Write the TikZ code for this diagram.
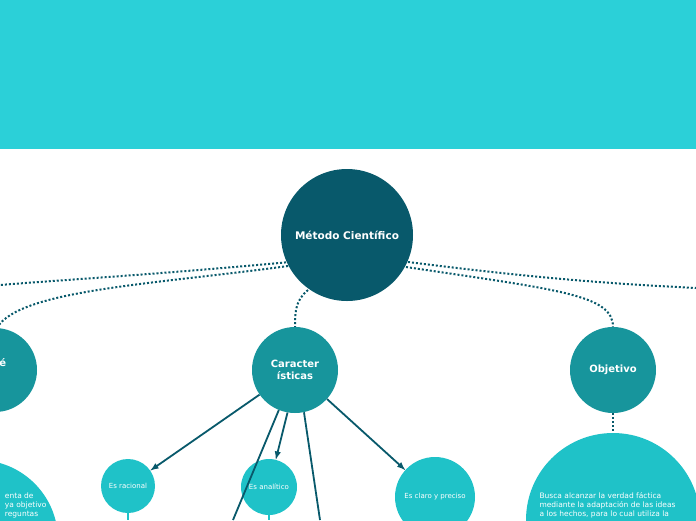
\documentclass[tikz,border=0pt]{standalone}
\usepackage{fontspec}
\setmainfont{DejaVu Sans}
\definecolor{banner}{HTML}{2BD0D8}
\definecolor{dark}{HTML}{08596B}
\definecolor{mid}{HTML}{17959C}
\definecolor{light}{HTML}{1FC2C8}
\tikzset{
 main/.style={circle,fill=dark,text=white,font=\bfseries\fontsize{10.5}{12.5}\selectfont,align=center},
 sub/.style={circle,fill=mid,text=white,font=\bfseries\fontsize{10}{12}\selectfont,align=center},
 leaf/.style={circle,fill=light,text=white,font=\fontsize{7}{8.5}\selectfont,align=center},
 dotc/.style={draw=dark,line width=2pt,dotted},
 arr/.style={draw=dark,line width=1.8pt,-latex},
 pl/.style={draw=dark,line width=1.8pt},
 lc/.style={draw=light,line width=1.8pt}
}
\begin{document}
\begin{tikzpicture}[x=1pt,y=-1pt]
\useasboundingbox (0,0) rectangle (696,520);
\clip (0,0) rectangle (696,520);
\fill[white] (0,0) rectangle (696,520);
\fill[banner] (0,0) rectangle (696,149);
\coordinate (lo1) at (0,285);
\coordinate (ro1) at (696,288);
\draw[dotc] (290,262) .. controls (150,275) and (60,280) .. (lo1);
\draw[dotc] (288,266) .. controls (150,285) and (10,290) .. (-5,332);
\draw[dotc] (408,262) .. controls (550,280) and (620,284) .. (ro1);
\draw[dotc] (406,267) .. controls (560,290) and (613,295) .. (613,327);
\draw[dotc] (308,290) .. controls (296,300) and (295,310) .. (295,327);
\draw[dotc] (613,413) -- (613,433);
\node[main,minimum size=132pt] (m) at (347,235) {Método Científico};
\node[sub,minimum size=84pt] (l) at (-5,370) {Qué\\[4pt]~};
\node[sub,minimum size=86pt] (c) at (295,370) {Caracter\\ísticas};
\node[sub,minimum size=86pt] (o) at (613,370) {Objetivo};
\node[leaf,minimum size=54pt,inner sep=0pt] (r) at (128,486) {Es racional};
\node[leaf,minimum size=56pt,inner sep=0pt] (a) at (269,487) {Es analítico};
\node[leaf,minimum size=80pt,inner sep=0pt] (p) at (435,497) {Es claro y preciso};
\node[leaf,minimum size=174pt] (ob) at (613,520) {};
\node[leaf,minimum size=160pt] (lb) at (-22,540) {};
\node[anchor=north west,text=white,font=\fontsize{7.5}{9}\selectfont,align=left] (obt) at (536,489) {Busca alcanzar la verdad fáctica\\mediante la adaptación de las ideas\\a los hechos, para lo cual utiliza la};
\node[anchor=north east,text=white,font=\fontsize{7.5}{9}\selectfont,align=left] (lbt) at (50,489) {enta de\\ya objetivo\\reguntas};
\coordinate (e1) at (233,520);
\coordinate (e2) at (320,520);
\draw[arr] (c) -- (r);
\draw[arr] (c.-100) -- (a);
\draw[pl] (c.-112) -- (e1);
\draw[pl] (c.-78) -- (e2);
\draw[arr] (c) -- (p);
\coordinate (rb) at (128,520);
\coordinate (ab) at (269,520);
\draw[lc] (r) -- (rb);
\draw[lc] (a) -- (ab);
\end{tikzpicture}
\end{document}
